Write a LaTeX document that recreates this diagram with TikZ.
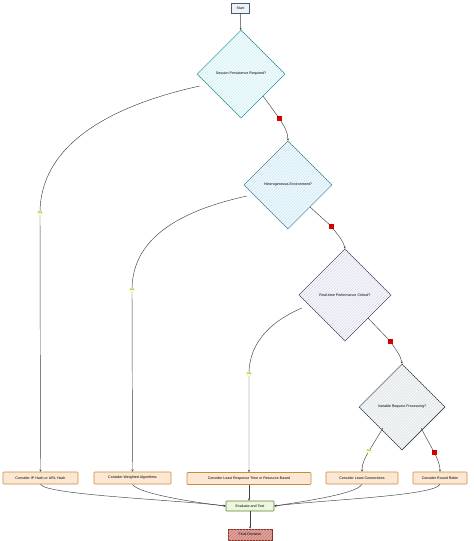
\documentclass[tikz,border=0pt]{standalone}
\usepackage{fontspec}
\setmainfont{Liberation Sans}
\usetikzlibrary{shapes.geometric,arrows.meta,patterns}
\definecolor{d1f}{HTML}{DCF4F6}\definecolor{d1d}{HTML}{2A8C95}
\definecolor{d2f}{HTML}{D8EEF8}\definecolor{d2d}{HTML}{3B7F9A}
\definecolor{d3f}{HTML}{E6E6F3}\definecolor{d3d}{HTML}{4A4A70}
\definecolor{d4f}{HTML}{E3E9EE}\definecolor{d4d}{HTML}{2F3F4A}
\definecolor{optf}{HTML}{FCE8D2}\definecolor{optd}{HTML}{C98A3E}
\definecolor{evf}{HTML}{EEF7DC}\definecolor{evd}{HTML}{5A7F3A}
\definecolor{finf}{HTML}{E7A49C}\definecolor{find}{HTML}{8E2A22}
\definecolor{stf}{HTML}{EEF3FA}\definecolor{std}{HTML}{4A5A70}
\begin{document}
\begin{tikzpicture}[x=1pt,y=-1pt,
  every node/.style={font=\fontsize{3.6}{4}\selectfont, inner sep=0pt},
  dec/.style={diamond, line width=0.6pt, minimum width=#1, minimum height=#1, aspect=1,
    postaction={pattern=north east lines, pattern color=white}},
  opt/.style={rectangle, draw=optd, fill=optf, line width=0.6pt, minimum height=12pt, rounded corners=0.8pt},
  edge/.style={draw=black!75, line width=0.45pt, -{Stealth[length=2.2pt,width=2pt]}},
  yeslbl/.style={fill=yellow!25, text=black!70, inner sep=0.6pt, font=\fontsize{2.6}{3}\selectfont},
  nolbl/.style={fill=red!85!black, text=red!40!black, inner sep=0.6pt, minimum size=5pt, font=\fontsize{2.6}{3}\selectfont}
]
\useasboundingbox (0,0) rectangle (474,541);

\node[draw=std, fill=stf, line width=0.5pt, minimum width=18pt, minimum height=10pt] (start) at (240.5,8.5) {Start};

\node[dec=88pt, draw=d1d, fill=d1f] (d1) at (241,74) {Session Persistence Required?};
\node[dec=88pt, draw=d2d, fill=d2f] (d2) at (288,185) {Heterogeneous Environment?};
\node[dec=92pt, draw=d3d, fill=d3f] (d3) at (345,295) {Real-time Performance Critical?};
\node[dec=86pt, draw=d4d, fill=d4f] (d4) at (402,407) {Variable Request Processing?};

\node[opt, minimum width=75pt] (b1) at (40.5,478) {Consider IP Hash or URL Hash};
\node[opt, minimum width=77pt] (b2) at (132.5,478) {Consider Weighted Algorithms};
\node[opt, minimum width=124pt] (b3) at (249,478.5) {Consider Least Response Time or Resource-Based};
\node[opt, minimum width=72pt] (b4) at (362,478) {Consider Least Connections};
\node[opt, minimum width=54pt] (b5) at (440,478) {Consider Round Robin};

\node[draw=evd, fill=evf, line width=0.6pt, minimum width=48pt, minimum height=10pt, rounded corners=0.8pt] (ev) at (250,506) {Evaluate and Test};
\node[draw=find, fill=finf, line width=0.6pt, minimum width=44pt, minimum height=11pt,
  postaction={pattern=north east lines, pattern color=find!60}] (fin) at (250,534.5) {Final Decision};

% connectors
\draw[edge] (start) -- (d1);

\coordinate (y1) at (40,213);
\draw[edge] (d1.west) ++(3,12) .. controls (100,108) and (40,150) .. (y1) -- (b1.north);
\node[yeslbl] at (y1) {Yes};

\coordinate (n1) at (279,118);
\draw[edge] (263,96) -- (n1) .. controls (284,126) and (288,132) .. (d2.north);
\node[nolbl] at (n1) {No};

\coordinate (y2) at (132,290);
\draw[edge] (247,196) .. controls (160,215) and (132,250) .. (y2) -- (b2.north);
\node[yeslbl] at (y2) {Yes};

\coordinate (n2) at (331,226);
\draw[edge] (310,207) -- (n2) .. controls (337,234) and (343,240) .. (d3.north);
\node[nolbl] at (n2) {No};

\coordinate (y3) at (249,374);
\draw[edge] (302,308) .. controls (262,325) and (249,350) .. (y3) -- (b3.north);
\node[yeslbl] at (y3) {Yes};

\coordinate (n3) at (390,341);
\draw[edge] (368,318) -- (n3) .. controls (396,350) and (401,356) .. (d4.north);
\node[nolbl] at (n3) {No};

\coordinate (y4) at (369,451);
\draw[edge] (383,428) -- (y4) .. controls (364,459) and (362,465) .. (b4.north);
\node[yeslbl] at (y4) {Yes};

\coordinate (n4) at (434,452);
\draw[edge] (421,428) -- (n4) .. controls (438,460) and (440,465) .. (b5.north);
\node[nolbl] at (n4) {No};

\draw[edge] (b1.south) .. controls (45,495) and (180,500) .. (ev.west);
\draw[edge] (b2.south) .. controls (137,493) and (190,502) .. (ev.west);
\draw[edge] (b3.south) -- (b3.south |- ev.north);
\draw[edge] (b4.south) .. controls (357,494) and (300,502) .. (ev.east);
\draw[edge] (b5.south) .. controls (435,496) and (320,500) .. (ev.east);

\draw[edge] (ev) -- (fin);
\end{tikzpicture}
\end{document}
